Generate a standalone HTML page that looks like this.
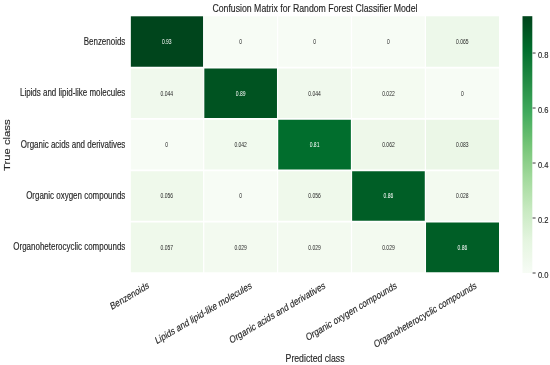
<!DOCTYPE html>
<html><head><meta charset="utf-8"><title>Confusion Matrix</title>
<style>html,body{margin:0;padding:0;background:#fff;}svg{display:block;}text{font-family:"Liberation Sans",Arial,sans-serif;fill:#262626;stroke:#262626;stroke-width:0.15px;}text.w{fill:#fff;stroke:#fff;}g.a text{stroke-width:0;}</style></head><body>
<svg width="550" height="365" viewBox="0 0 550 365">
<rect width="550" height="365" fill="#fff"/>
<g>
<rect x="130.85" y="16.30" width="73.25" height="51.66" fill="#00451c"/>
<rect x="203.70" y="16.30" width="74.30" height="51.66" fill="#f7fcf5"/>
<rect x="277.60" y="16.30" width="74.30" height="51.66" fill="#f7fcf5"/>
<rect x="351.50" y="16.30" width="74.30" height="51.66" fill="#f7fcf5"/>
<rect x="425.40" y="16.30" width="73.60" height="51.66" fill="#edf8ea"/>
<rect x="130.85" y="67.56" width="73.25" height="51.76" fill="#f0f9ed"/>
<rect x="203.70" y="67.56" width="74.30" height="51.76" fill="#005321"/>
<rect x="277.60" y="67.56" width="74.30" height="51.76" fill="#f0f9ed"/>
<rect x="351.50" y="67.56" width="74.30" height="51.76" fill="#f4fbf1"/>
<rect x="425.40" y="67.56" width="73.60" height="51.76" fill="#f7fcf5"/>
<rect x="130.85" y="118.92" width="73.25" height="51.76" fill="#f7fcf5"/>
<rect x="203.70" y="118.92" width="74.30" height="51.76" fill="#f1faee"/>
<rect x="277.60" y="118.92" width="74.30" height="51.76" fill="#016e2d"/>
<rect x="351.50" y="118.92" width="74.30" height="51.76" fill="#eef8ea"/>
<rect x="425.40" y="118.92" width="73.60" height="51.76" fill="#ebf7e7"/>
<rect x="130.85" y="170.28" width="73.25" height="51.76" fill="#eff9eb"/>
<rect x="203.70" y="170.28" width="74.30" height="51.76" fill="#f7fcf5"/>
<rect x="277.60" y="170.28" width="74.30" height="51.76" fill="#eff9eb"/>
<rect x="351.50" y="170.28" width="74.30" height="51.76" fill="#005e26"/>
<rect x="425.40" y="170.28" width="73.60" height="51.76" fill="#f3faf0"/>
<rect x="130.85" y="221.64" width="73.25" height="50.61" fill="#eff9eb"/>
<rect x="203.70" y="221.64" width="74.30" height="50.61" fill="#f3faf0"/>
<rect x="277.60" y="221.64" width="74.30" height="50.61" fill="#f3faf0"/>
<rect x="351.50" y="221.64" width="74.30" height="50.61" fill="#f3faf0"/>
<rect x="425.40" y="221.64" width="73.60" height="50.61" fill="#005e26"/>
</g>
<g stroke="#fff">
<line x1="203.70" x2="203.70" y1="14.20" y2="275.00" stroke-width="1.25"/>
<line x1="277.60" x2="277.60" y1="14.20" y2="275.00" stroke-width="1.25"/>
<line x1="351.50" x2="351.50" y1="14.20" y2="275.00" stroke-width="1.25"/>
<line x1="425.40" x2="425.40" y1="14.20" y2="275.00" stroke-width="1.25"/>
<line x1="127.80" x2="501.30" y1="67.56" y2="67.56" stroke-width="1.80"/>
<line x1="127.80" x2="501.30" y1="118.92" y2="118.92" stroke-width="1.80"/>
<line x1="127.80" x2="501.30" y1="170.28" y2="170.28" stroke-width="1.80"/>
<line x1="127.80" x2="501.30" y1="221.64" y2="221.64" stroke-width="1.80"/>
</g>
<g font-size="6.35" text-anchor="middle" class="a">
<text transform="translate(166.75 41.88) scale(0.787 1)" y="2.32" class="w">0.93</text>
<text transform="translate(240.65 41.88) scale(0.787 1)" y="2.32">0</text>
<text transform="translate(314.55 41.88) scale(0.787 1)" y="2.32">0</text>
<text transform="translate(388.45 41.88) scale(0.787 1)" y="2.32">0</text>
<text transform="translate(462.35 41.88) scale(0.787 1)" y="2.32">0.065</text>
<text transform="translate(166.75 93.24) scale(0.787 1)" y="2.32">0.044</text>
<text transform="translate(240.65 93.24) scale(0.787 1)" y="2.32" class="w">0.89</text>
<text transform="translate(314.55 93.24) scale(0.787 1)" y="2.32">0.044</text>
<text transform="translate(388.45 93.24) scale(0.787 1)" y="2.32">0.022</text>
<text transform="translate(462.35 93.24) scale(0.787 1)" y="2.32">0</text>
<text transform="translate(166.75 144.60) scale(0.787 1)" y="2.32">0</text>
<text transform="translate(240.65 144.60) scale(0.787 1)" y="2.32">0.042</text>
<text transform="translate(314.55 144.60) scale(0.787 1)" y="2.32" class="w">0.81</text>
<text transform="translate(388.45 144.60) scale(0.787 1)" y="2.32">0.062</text>
<text transform="translate(462.35 144.60) scale(0.787 1)" y="2.32">0.083</text>
<text transform="translate(166.75 195.96) scale(0.787 1)" y="2.32">0.056</text>
<text transform="translate(240.65 195.96) scale(0.787 1)" y="2.32">0</text>
<text transform="translate(314.55 195.96) scale(0.787 1)" y="2.32">0.056</text>
<text transform="translate(388.45 195.96) scale(0.787 1)" y="2.32" class="w">0.86</text>
<text transform="translate(462.35 195.96) scale(0.787 1)" y="2.32">0.028</text>
<text transform="translate(166.75 247.32) scale(0.787 1)" y="2.32">0.057</text>
<text transform="translate(240.65 247.32) scale(0.787 1)" y="2.32">0.029</text>
<text transform="translate(314.55 247.32) scale(0.787 1)" y="2.32">0.029</text>
<text transform="translate(388.45 247.32) scale(0.787 1)" y="2.32">0.029</text>
<text transform="translate(462.35 247.32) scale(0.787 1)" y="2.32" class="w">0.86</text>
</g>
<text transform="translate(314.95 12.25) scale(0.790 1)" font-size="11.06" text-anchor="middle">Confusion Matrix for Random Forest Classifier Model</text>
<g font-size="10.14" text-anchor="end">
<text transform="translate(125.35 42.83) scale(0.787 1)" y="2.57">Benzenoids</text>
<text transform="translate(125.35 93.64) scale(0.787 1)" y="2.57">Lipids and lipid-like molecules</text>
<text transform="translate(125.35 145.00) scale(0.787 1)" y="2.57">Organic acids and derivatives</text>
<text transform="translate(125.35 196.36) scale(0.787 1)" y="2.57">Organic oxygen compounds</text>
<text transform="translate(125.35 247.72) scale(0.787 1)" y="2.57">Organoheterocyclic compounds</text>
</g>
<g font-size="10.14" text-anchor="middle">
<text transform="translate(129.80 296.55) scale(0.787 1) rotate(-25)" y="2.57">Benzenoids</text>
<text transform="translate(203.70 313.70) scale(0.787 1) rotate(-25)" y="2.57">Lipids and lipid-like molecules</text>
<text transform="translate(277.60 313.46) scale(0.787 1) rotate(-25)" y="2.57">Organic acids and derivatives</text>
<text transform="translate(351.50 312.04) scale(0.787 1) rotate(-25)" y="2.57">Organic oxygen compounds</text>
<text transform="translate(425.40 315.49) scale(0.787 1) rotate(-25)" y="2.57">Organoheterocyclic compounds</text>
</g>
<text transform="translate(315.05 361.5) scale(0.787 1)" font-size="11.06" text-anchor="middle">Predicted class</text>
<text transform="translate(9.5 145.20) scale(0.850 1) rotate(-90)" font-size="11.30" text-anchor="middle">True class</text>
<defs><linearGradient id="cb" x1="0" y1="0" x2="0" y2="1"><stop offset="0.0000" stop-color="#00441b"/><stop offset="0.0312" stop-color="#004d1f"/><stop offset="0.0625" stop-color="#005723"/><stop offset="0.0938" stop-color="#006227"/><stop offset="0.1250" stop-color="#006c2c"/><stop offset="0.1562" stop-color="#087432"/><stop offset="0.1875" stop-color="#117b38"/><stop offset="0.2188" stop-color="#19833e"/><stop offset="0.2500" stop-color="#228a44"/><stop offset="0.2812" stop-color="#2a924a"/><stop offset="0.3125" stop-color="#319a50"/><stop offset="0.3438" stop-color="#39a257"/><stop offset="0.3750" stop-color="#40aa5d"/><stop offset="0.4062" stop-color="#4db163"/><stop offset="0.4375" stop-color="#5ab769"/><stop offset="0.4688" stop-color="#66bd6f"/><stop offset="0.5000" stop-color="#73c476"/><stop offset="0.5312" stop-color="#7fc97f"/><stop offset="0.5625" stop-color="#8ace88"/><stop offset="0.5938" stop-color="#95d391"/><stop offset="0.6250" stop-color="#a0d99b"/><stop offset="0.6562" stop-color="#aadda4"/><stop offset="0.6875" stop-color="#b4e1ad"/><stop offset="0.7188" stop-color="#bde5b6"/><stop offset="0.7500" stop-color="#c7e9c0"/><stop offset="0.7812" stop-color="#ceecc8"/><stop offset="0.8125" stop-color="#d6efd0"/><stop offset="0.8438" stop-color="#ddf2d8"/><stop offset="0.8750" stop-color="#e5f5e0"/><stop offset="0.9062" stop-color="#e9f7e5"/><stop offset="0.9375" stop-color="#eef8ea"/><stop offset="0.9688" stop-color="#f2faf0"/><stop offset="1.0000" stop-color="#f7fcf5"/></linearGradient></defs>
<rect x="522.50" y="16.20" width="9.80" height="256.80" fill="url(#cb)"/>
<g font-size="9.60" text-anchor="start">
<line x1="532.60" x2="535.60" y1="273.00" y2="273.00" stroke="#262626" stroke-width="0.9"/>
<text transform="translate(537.90 273.00) scale(0.787 1)" y="4.74">0.0</text>
<line x1="532.60" x2="535.60" y1="218.01" y2="218.01" stroke="#262626" stroke-width="0.9"/>
<text transform="translate(537.90 218.01) scale(0.787 1)" y="4.74">0.2</text>
<line x1="532.60" x2="535.60" y1="163.02" y2="163.02" stroke="#262626" stroke-width="0.9"/>
<text transform="translate(537.90 163.02) scale(0.787 1)" y="4.74">0.4</text>
<line x1="532.60" x2="535.60" y1="108.03" y2="108.03" stroke="#262626" stroke-width="0.9"/>
<text transform="translate(537.90 108.03) scale(0.787 1)" y="4.74">0.6</text>
<line x1="532.60" x2="535.60" y1="53.04" y2="53.04" stroke="#262626" stroke-width="0.9"/>
<text transform="translate(537.90 53.04) scale(0.787 1)" y="4.74">0.8</text>
</g>
</svg></body></html>
